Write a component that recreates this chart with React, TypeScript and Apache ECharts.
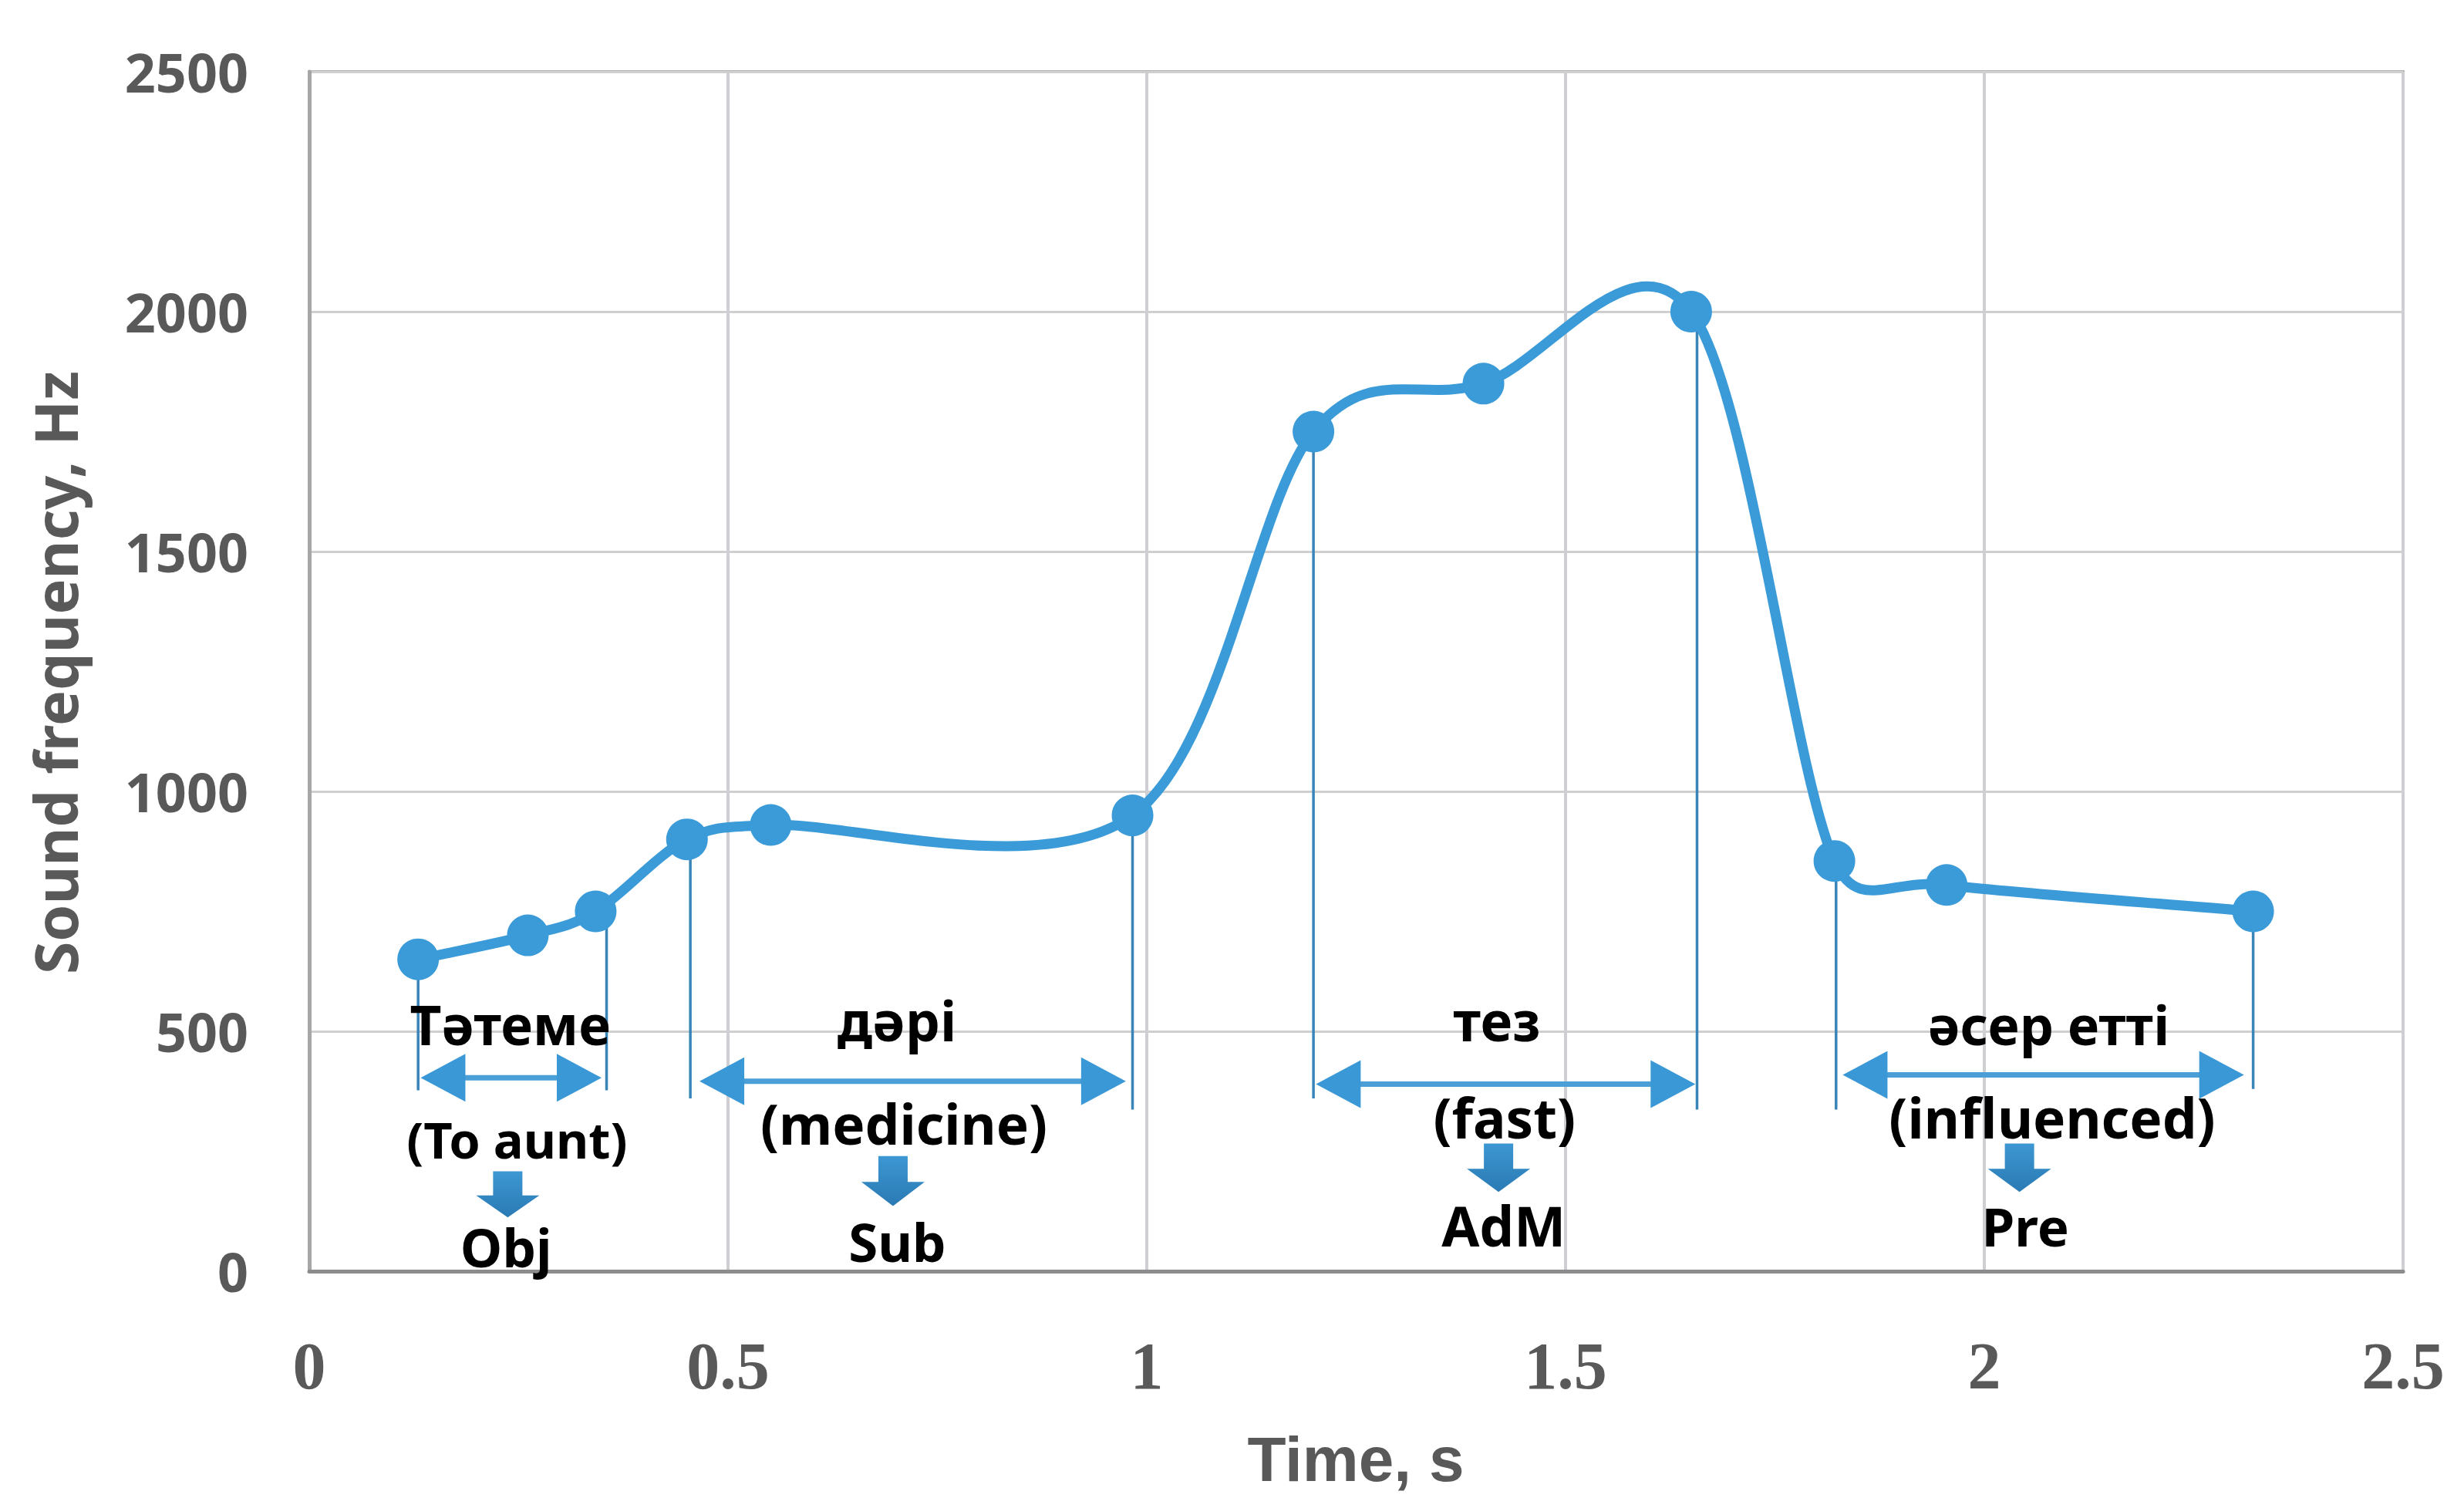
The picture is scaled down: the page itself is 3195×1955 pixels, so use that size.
import React, { useEffect, useRef } from "react";
import * as echarts from "echarts";

// Main series: time (s) and sound frequency (Hz)
const times = [0.13, 0.261, 0.342, 0.451, 0.551, 0.983, 1.199, 1.402, 1.65, 1.821, 1.955, 2.321];
const freqs = [650, 700, 750, 900, 930, 950, 1750, 1850, 2000, 855, 805, 750];

// Axis ticks
const xTicks = [0, 0.5, 1, 1.5, 2, 2.5];
const yTicks = [0, 500, 1000, 1500, 2000, 2500];

// Vertical drop lines (time, top Hz, bottom Hz)
const dropT = [0.13, 0.355, 0.455, 0.983, 1.199, 1.657, 1.823, 2.321];
const dropTop = [650, 750, 900, 950, 1750, 2000, 855, 750];
const dropBottom = [377, 377, 360, 337, 360, 337, 337, 380];

// Double-headed span arrows (start time, end time, Hz)
const spanStart = [0.133, 0.466, 1.202, 1.831];
const spanEnd = [0.349, 0.975, 1.655, 2.31];
const spanLevel = [403, 396, 390, 409];

// Small downward block arrows (time, top Hz, bottom Hz)
const downT = [0.237, 0.697, 1.42, 2.042];
const downTop = [208, 240, 266, 266];
const downBottom = [112, 136, 165, 165];

// Annotation texts (time, Hz)
const labelTexts = [
  "Тәтеме", "(To aunt)", "Obj",
  "дәрі", "(medicine)", "Sub",
  "тез", "(fast)", "AdM",
  "әсер етті", "(influenced)", "Pre",
];
const labelT = [0.24, 0.248, 0.235, 0.702, 0.71, 0.702, 1.418, 1.427, 1.426, 2.077, 2.081, 2.049];
const labelF = [516, 275, 52, 524, 308, 62, 524, 321, 95, 514, 321, 95];
const labelFontSize = [71, 65, 69, 71, 71, 69, 71, 71, 71, 70, 71, 69];

const BLUE = "#3b9bd8";

// Spreadsheet-style smoothed segment between point i and i+1 (control points from neighbours)
function segmentShape(api: any, i: number) {
  const n = times.length;
  const P = (k: number) => {
    const j = Math.max(0, Math.min(n - 1, k));
    return api.coord([times[j], freqs[j]]);
  };
  const p0 = P(i - 1);
  const p1 = P(i);
  const p2 = P(i + 1);
  const p3 = P(i + 2);
  const seg = Math.hypot(p2[0] - p1[0], p2[1] - p1[1]);
  const ctrl = (prev: number[], cur: number[], next: number[], sign: number) => {
    const tx = (next[0] - prev[0]) / 6;
    const ty = (next[1] - prev[1]) / 6;
    const len = Math.hypot(tx, ty) || 1;
    const f = Math.min(1, seg / 2 / len);
    return [cur[0] + sign * tx * f, cur[1] + sign * ty * f];
  };
  const c1 = i === 0 ? [p1[0] + (p2[0] - p1[0]) / 3, p1[1] + (p2[1] - p1[1]) / 3] : ctrl(p0, p1, p2, 1);
  const c2 = i + 1 === n - 1 ? [p2[0] - (p2[0] - p1[0]) / 3, p2[1] - (p2[1] - p1[1]) / 3] : ctrl(p1, p2, p3, -1);
  return { x1: p1[0], y1: p1[1], cpx1: c1[0], cpy1: c1[1], cpx2: c2[0], cpy2: c2[1], x2: p2[0], y2: p2[1] };
}

export default function App() {
  const ref = useRef<HTMLDivElement>(null);

  useEffect(() => {
    document.body.style.margin = "0";
    const chart = echarts.init(ref.current as HTMLDivElement, null, { renderer: "svg" });

    const option: any = {
      animation: false,
      backgroundColor: "#ffffff",
      grid: {
        left: 401,
        top: 93,
        right: 79,
        bottom: 307,
        show: true,
        borderColor: "#b4b4b4",
        borderWidth: 4,
        backgroundColor: "transparent",
      },
      xAxis: {
        type: "value",
        min: xTicks[0],
        max: xTicks[xTicks.length - 1],
        interval: 0.5,
        axisLine: { show: true, onZero: false, lineStyle: { color: "#8c8c8c", width: 5 } },
        axisTick: { show: false },
        splitLine: { show: true, lineStyle: { color: "#cfcfd3", width: 4 } },
        axisLabel: {
          margin: 80,
          fontSize: 86,
          fontWeight: "bold",
          fontFamily: "'Liberation Serif', 'DejaVu Serif', serif",
          color: "#595959",
          formatter: (v: number) => String(v),
        },
      },
      yAxis: {
        type: "value",
        min: yTicks[0],
        max: yTicks[yTicks.length - 1],
        interval: 500,
        axisLine: { show: true, lineStyle: { color: "#a6a6a6", width: 5 } },
        axisTick: { show: false },
        splitLine: { show: true, lineStyle: { color: "#cfcfcf", width: 3 } },
        axisLabel: {
          margin: 79,
          fontSize: 70,
          fontWeight: "bold",
          fontFamily: "'Noto Sans', 'Open Sans', sans-serif",
          color: "#595959",
          formatter: (v: number) => String(v),
        },
      },
      graphic: [
        {
          type: "text",
          x: 71,
          y: 872,
          rotation: Math.PI / 2,
          style: {
            text: "Sound frequency, Hz",
            fontSize: 77,
            fontWeight: "bold",
            fontFamily: "'Noto Sans', 'Open Sans', sans-serif",
            fill: "#595959",
            align: "center",
            verticalAlign: "middle",
          },
        },
        {
          type: "text",
          x: 1758,
          y: 1891,
          style: {
            text: "Time, s",
            fontSize: 82,
            fontWeight: "bold",
            fontFamily: "'Liberation Sans', Arial, sans-serif",
            fill: "#595959",
            align: "center",
            verticalAlign: "middle",
          },
        },
      ],
      series: [
        {
          type: "custom",
          name: "drops",
          z: 2,
          data: dropT.map((t, i) => [t, dropTop[i], dropBottom[i]]),
          renderItem: (params: any, api: any) => {
            const a = api.coord([api.value(0), api.value(1)]);
            const b = api.coord([api.value(0), api.value(2)]);
            return {
              type: "line",
              shape: { x1: a[0], y1: a[1], x2: b[0], y2: b[1] },
              style: { stroke: "#3a85b8", lineWidth: 3.5 },
            };
          },
        },
        {
          type: "custom",
          name: "spans",
          z: 3,
          data: spanStart.map((t, i) => [t, spanEnd[i], spanLevel[i]]),
          renderItem: (params: any, api: any) => {
            const a = api.coord([api.value(0), api.value(2)]);
            const b = api.coord([api.value(1), api.value(2)]);
            const L = 58;
            const H = 62;
            return {
              type: "group",
              children: [
                {
                  type: "line",
                  shape: { x1: a[0] + L * 0.5, y1: a[1], x2: b[0] - L * 0.5, y2: b[1] },
                  style: { stroke: "#4a9fd6", lineWidth: 7 },
                },
                {
                  type: "polygon",
                  shape: { points: [[a[0], a[1]], [a[0] + L, a[1] - H / 2], [a[0] + L, a[1] + H / 2]] },
                  style: { fill: "#3a98d6" },
                },
                {
                  type: "polygon",
                  shape: { points: [[b[0], b[1]], [b[0] - L, b[1] - H / 2], [b[0] - L, b[1] + H / 2]] },
                  style: { fill: "#3a98d6" },
                },
              ],
            };
          },
        },
        {
          type: "custom",
          name: "downs",
          z: 3,
          data: downT.map((t, i) => [t, downTop[i], downBottom[i]]),
          renderItem: (params: any, api: any) => {
            const a = api.coord([api.value(0), api.value(1)]);
            const b = api.coord([api.value(0), api.value(2)]);
            const x = a[0];
            const y0 = a[1];
            const y1 = b[1];
            const yh = y0 + (y1 - y0) * 0.52;
            const w1 = 38;
            const w2 = 82;
            return {
              type: "polygon",
              shape: {
                points: [
                  [x - w1 / 2, y0], [x + w1 / 2, y0], [x + w1 / 2, yh], [x + w2 / 2, yh],
                  [x, y1], [x - w2 / 2, yh], [x - w1 / 2, yh],
                ],
              },
              style: {
                fill: new echarts.graphic.LinearGradient(0, 0, 0, 1, [
                  { offset: 0, color: "#3d97d2" },
                  { offset: 1, color: "#2a7ab4" },
                ]),
              },
            };
          },
        },
        {
          type: "custom",
          name: "curve",
          z: 4,
          data: times.map((t, i) => [t, freqs[i]]),
          renderItem: (params: any, api: any) => {
            const i = params.dataIndex;
            if (i >= times.length - 1) return null;
            return {
              type: "bezierCurve",
              shape: segmentShape(api, i),
              style: { stroke: BLUE, lineWidth: 13, fill: null, lineCap: "round" },
            };
          },
        },
        {
          type: "scatter",
          name: "Sound frequency",
          z: 5,
          data: times.map((t, i) => [t, freqs[i]]),
          symbol: "circle",
          symbolSize: 54,
          itemStyle: { color: BLUE, opacity: 1 },
        },
        {
          type: "custom",
          name: "labels",
          z: 6,
          data: labelT.map((t, i) => [t, labelF[i]]),
          renderItem: (params: any, api: any) => {
            const p = api.coord([api.value(0), api.value(1)]);
            const i = params.dataIndex;
            return {
              type: "text",
              x: p[0],
              y: p[1],
              style: {
                text: labelTexts[i],
                fontSize: labelFontSize[i],
                fontWeight: "bold",
                fontFamily: "'Noto Sans', 'Open Sans', sans-serif",
                fill: "#000000",
                align: "center",
                verticalAlign: "middle",
              },
            };
          },
        },
      ],
    };

    chart.setOption(option);
    return () => chart.dispose();
  }, []);

  return (
    <div
      ref={ref}
      style={{ position: "fixed", left: 0, top: 0, width: 3195, height: 1955, background: "#ffffff" }}
    />
  );
}
